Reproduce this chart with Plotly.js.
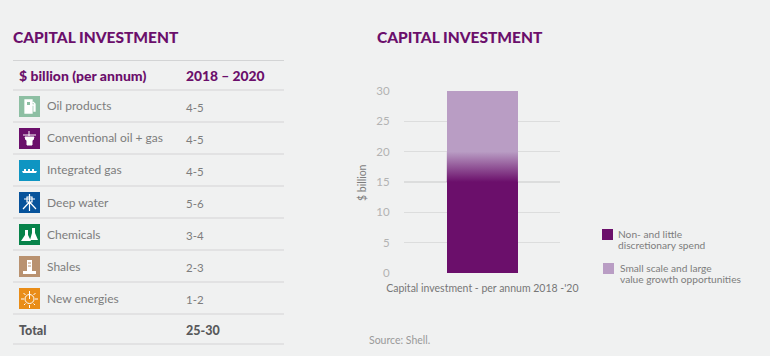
<!DOCTYPE html>
<html><head><meta charset="utf-8">
<script src="https://cdn.plot.ly/plotly-3.0.1.min.js"></script>
<style>html,body{margin:0;padding:0;background:#f0f1f1}#c{width:770px;height:356px}</style>
</head><body><div id="c"></div>
<script>
// ---- data ----
const chartTitle = 'CAPITAL INVESTMENT';
const tableHead = ['$ billion (per annum)', '2018 – 2020'];
const rowNames = ['Oil products','Conventional oil + gas','Integrated gas','Deep water','Chemicals','Shales','New energies'];
const rowValues = ['4-5','4-5','4-5','5-6','3-4','2-3','1-2'];
const rowColors = ['#8dbfa3','#6b0f6b','#0f95c2','#07539b','#07834a','#b99270','#e98d18'];
const totalRow = ['Total','25-30'];
const barCategory = ["Capital investment - per annum 2018 -'20"];
const nonDiscretionary = [15];
const growthOpportunities = [15];
const blendTop = 20;
const yTicks = [0,5,10,15,20,25,30];
const legendDark = ['Non- and little','discretionary spend'];
const legendLight = ['Small scale and large','value growth opportunities'];
const sourceText = 'Source: Shell.';

// ---- style ----
const W=770,H=356, PURPLE='#6b0f6b', LIGHT='#b99dc4', FONT='Lato, "Open Sans", sans-serif';
const BODY='#7d7d7d', RULE='#d3d4d5';
const px=x=>x/W, py=y=>1-y/H;
const barWidth=0.457;

const glyphs=[
 '<path d="M6 4h7v13H6zM13 9h2v6h1V8l-2-2" fill="none" stroke="#fff" stroke-width="1.3"/><path d="M6 4h7v13H6z" fill="#fff"/><rect x="8" y="6" width="3" height="3" fill="#8dbfa3"/>',
 '<path d="M10 3v5M4 7h13M6 9h9l-1 3H7zM8 12h5v5H8z" stroke="#fff" fill="#fff" stroke-width="1"/>',
 '<path d="M3 11h15l-1 2H4z" fill="#fff"/><path d="M5 9h2v2H5zM9 9h2v2H9zM13 9h2v2h-2z" fill="#fff"/>',
 '<path d="M10.5 2v17M5 7h11M8 5h5v5H8zM10.5 10L4 17M10.5 10L17 17" stroke="#fff" fill="none" stroke-width="1.2"/>',
 '<path d="M6 6h3v5l3 6H2l4-6zM13 4h3v5l3 7h-8l2-7z" fill="#fff"/>',
 '<path d="M8 4h5v11H8zM4 15h13v3H4z" fill="#fff"/><path d="M9 7h3M9 10h3" stroke="#b99270"/>',
 '<circle cx="10.5" cy="11" r="4.5" fill="none" stroke="#fff"/><path d="M10.5 3v8M2 11h3M16 11h3M4.5 5l2 2M16.5 5l-2 2M10.5 17v3M5 17l1.500-1.500M16 17l-1.500-1.500" stroke="#fff"/>'
];
const icon=(color,g)=>'data:image/svg+xml,'+encodeURIComponent(
 `<svg xmlns="http://www.w3.org/2000/svg" width="21" height="21" viewBox="0 0 21 21"><rect width="21" height="21" fill="${color}"/>${g}</svg>`);

const rule=y=>({type:'line',xref:'paper',yref:'paper',x0:px(13),x1:px(284),y0:py(y),y1:py(y),line:{color:RULE,width:1.2}});
const txt=(text,x,y,size,color,weight,anchor)=>({text,xref:'paper',yref:'paper',x:px(x),y:py(y),xanchor:anchor||'left',yanchor:'middle',showarrow:false,
  font:{family:FONT,size,color,weight:weight||400},borderpad:0,borderwidth:0});

const ruleYs=[60.5,90,122,154,186,218,250,282,314,344];
const shapes=ruleYs.map(rule);
const annotations=[
 txt(chartTitle,13,37,15.500,PURPLE,900),
 txt(chartTitle,377,37,15.500,PURPLE,900),
 txt(tableHead[0],19,75.500,14,PURPLE,900),
 txt(tableHead[1],186,75.500,13.800,PURPLE,900),
 txt(totalRow[0],19,330,12.500,'#58595b',900),
 txt(totalRow[1],186,330,12.500,'#58595b',900),
 txt(sourceText,369,340,10.500,'#9a9a9a'),
 txt('$ billion',362,183,10.500,'#7d7d7d')
];
annotations[annotations.length-1].textangle=-90;
annotations[annotations.length-1].xanchor='center';
const images=[];
rowNames.forEach((n,i)=>{
  const top=96+32*i, mid=top+10;
  annotations.push(txt(n,47,mid,12,BODY));
  annotations.push(txt(rowValues[i],186,mid+1,11.500,BODY));
  images.push({source:icon(rowColors[i],glyphs[i]),xref:'paper',yref:'paper',x:px(19),y:py(top),sizex:21/W,sizey:21/H,xanchor:'left',yanchor:'top',sizing:'stretch',layer:'above'});
});
const swatch=(x,y,c)=>({type:'rect',xref:'paper',yref:'paper',x0:px(x),x1:px(x+11),y0:py(y),y1:py(y+11),fillcolor:c,line:{width:0}});
shapes.push(swatch(602,229,PURPLE),swatch(603,263,LIGHT));
legendDark.forEach((t,i)=>annotations.push(txt(t,618,234+i*10.500,10.200,BODY)));
legendLight.forEach((t,i)=>annotations.push(txt(t,620,268+i*10.500,10.200,BODY)));

const traces=[
 {type:'bar',x:[0],y:nonDiscretionary,width:[barWidth],name:legendDark.join(' '),marker:{color:PURPLE,line:{width:0}},hoverinfo:'y+name'},
 {type:'bar',x:[0],y:growthOpportunities,width:[barWidth],name:legendLight.join(' '),marker:{color:LIGHT,line:{width:0}},hoverinfo:'y+name'},
 {type:'scatter',mode:'none',hoverinfo:'skip',
  x:[-barWidth/2,barWidth/2,barWidth/2,-barWidth/2,-barWidth/2],
  y:[nonDiscretionary[0],nonDiscretionary[0],blendTop,blendTop,nonDiscretionary[0]],
  fill:'toself',fillcolor:PURPLE,
  fillgradient:{type:'vertical',colorscale:[[0,PURPLE],[1,LIGHT]]}}
];
const layout={
 width:W,height:H,margin:{l:0,r:0,t:0,b:0},paper_bgcolor:'#f0f1f1',plot_bgcolor:'rgba(0,0,0,0)',
 showlegend:false,barmode:'stack',font:{family:FONT},
 xaxis:{domain:[px(404),px(559.5)],range:[-0.504,0.496],tickmode:'array',tickvals:[0],ticktext:barCategory,showgrid:false,zeroline:false,
   ticks:'outside',ticklen:5,tickcolor:'rgba(0,0,0,0)',tickfont:{family:FONT,size:10.500,color:'#777'}},
 yaxis:{domain:[py(273),py(91)],range:[0,30],tickmode:'array',tickvals:yTicks,gridcolor:'#dcdddd',gridwidth:1.2,zeroline:false,
   ticks:'outside',ticklen:11,tickcolor:'rgba(0,0,0,0)',tickfont:{family:FONT,size:11.500,color:'#b3b3b3'}},
 shapes,annotations,images
};
Plotly.newPlot('c',traces,layout,{displayModeBar:false,staticPlot:true});
</script></body></html>
